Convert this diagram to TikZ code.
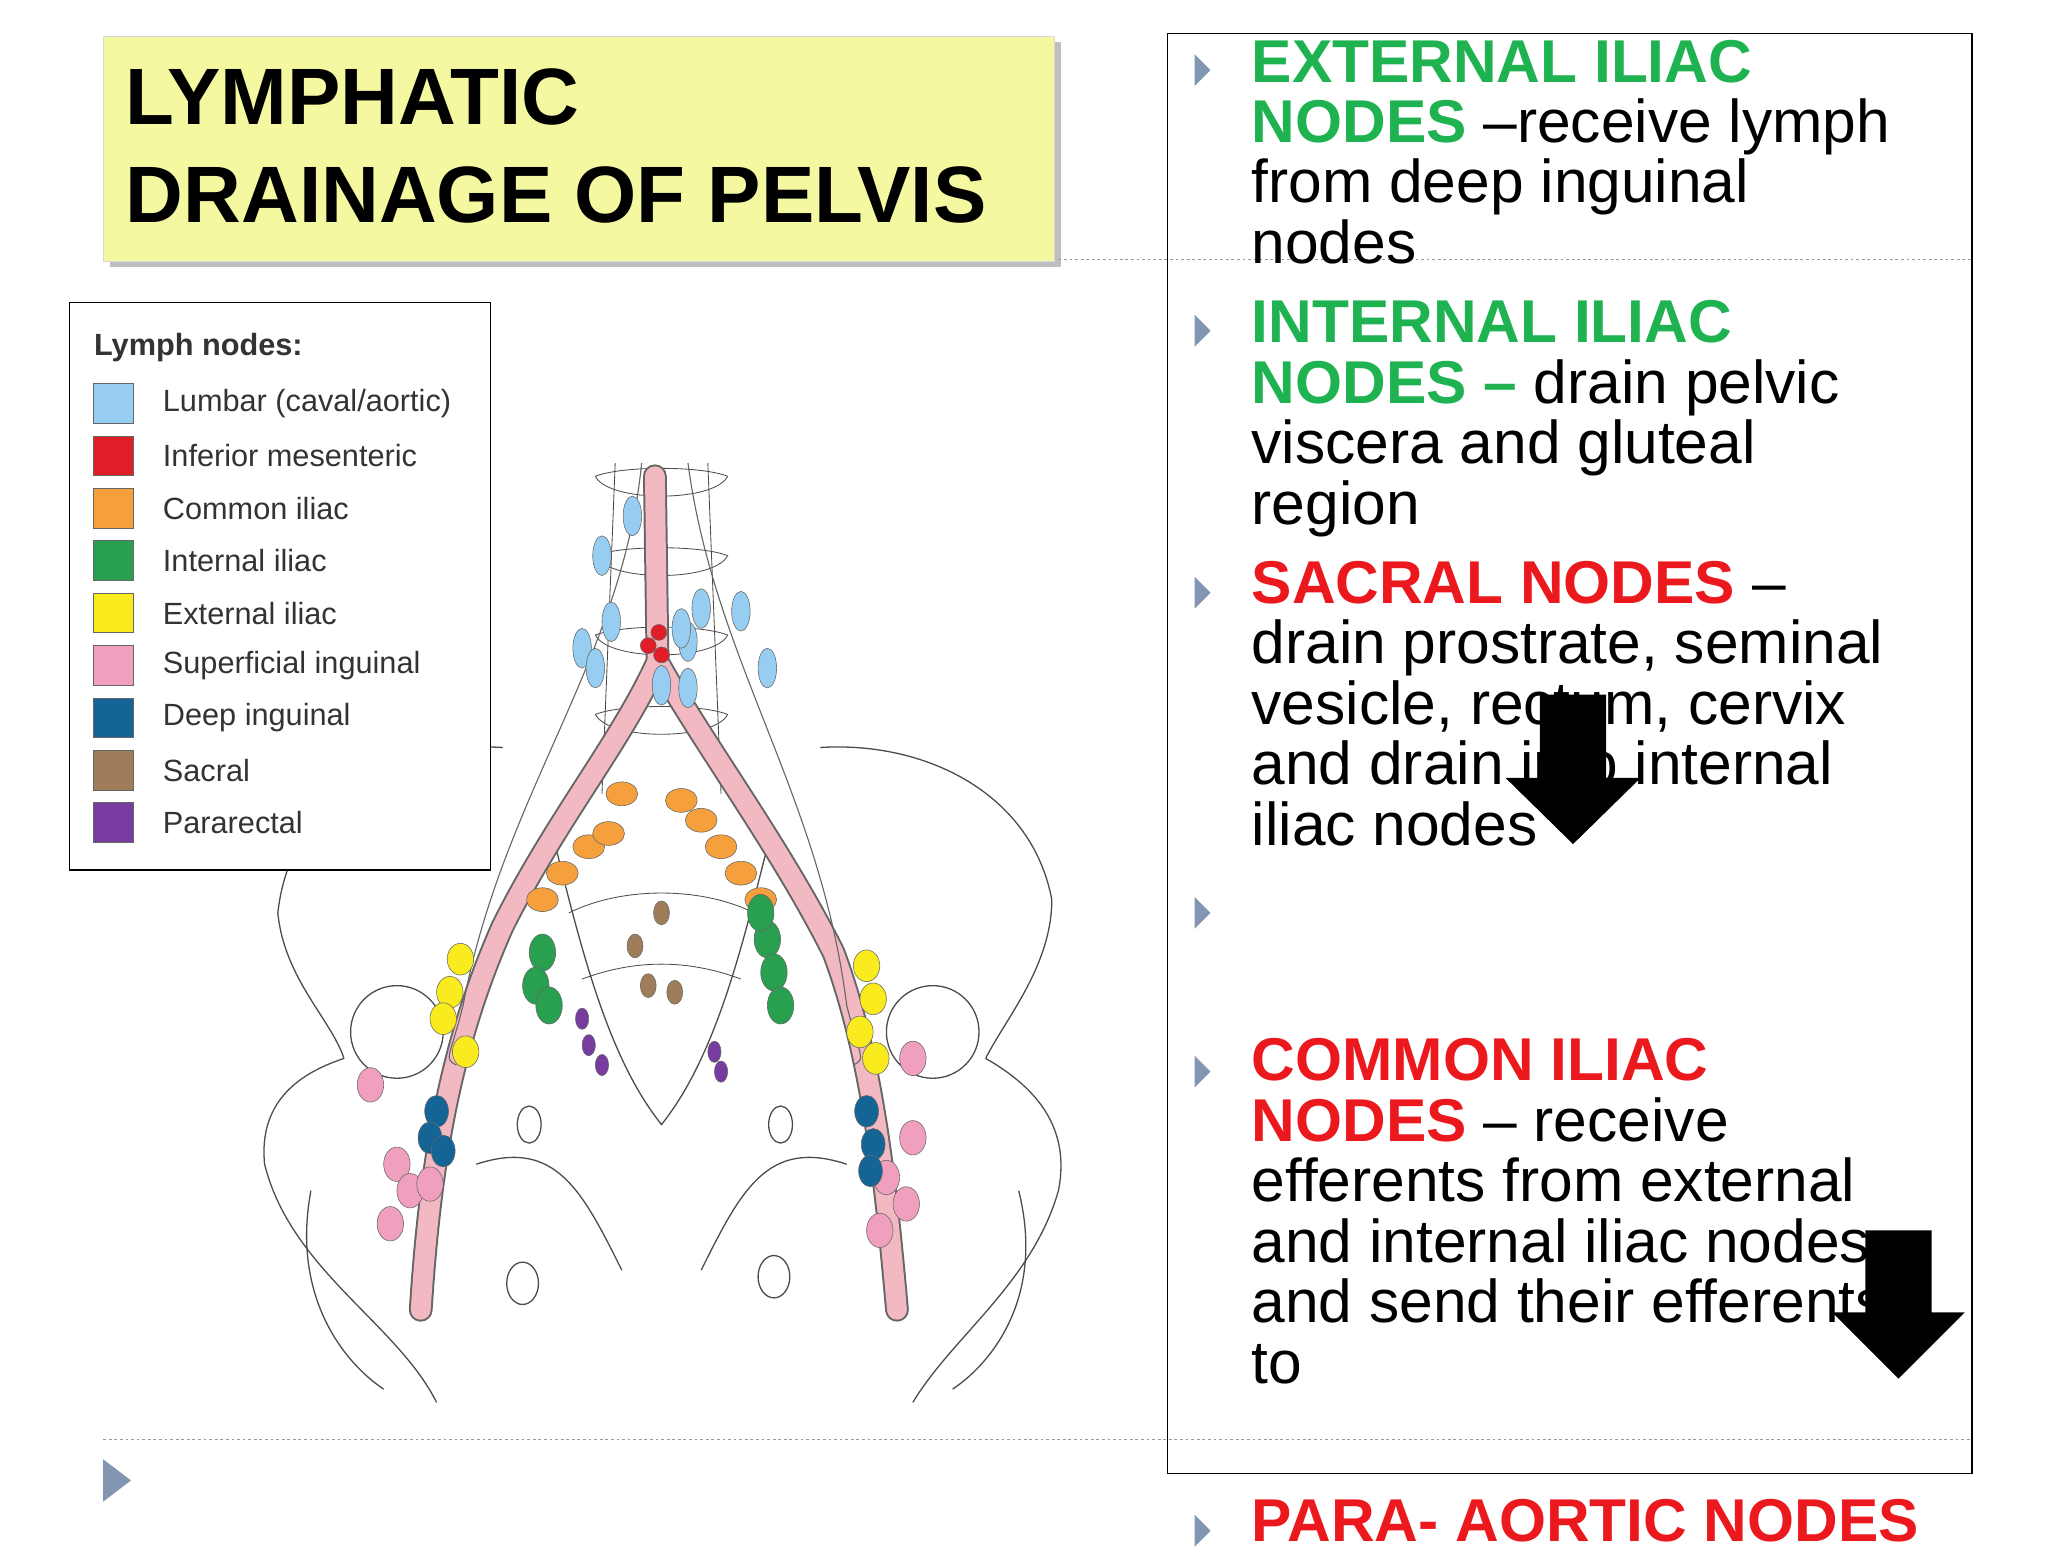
\documentclass[tikz,border=0pt]{standalone}
\usepackage{fontspec}
\setmainfont{Liberation Sans}
\definecolor{grn}{RGB}{30,178,80}
\definecolor{rd}{RGB}{235,25,30}
\definecolor{bul}{RGB}{130,150,178}
\definecolor{lb}{RGB}{150,205,240}
\definecolor{lr}{RGB}{225,30,40}
\definecolor{lo}{RGB}{245,160,60}
\definecolor{lg}{RGB}{40,160,80}
\definecolor{ly}{RGB}{250,235,30}
\definecolor{lp}{RGB}{240,160,190}
\definecolor{ld}{RGB}{20,100,150}
\definecolor{lbr}{RGB}{160,125,90}
\definecolor{lpu}{RGB}{120,60,160}
\definecolor{vess}{RGB}{242,185,195}
\begin{document}
\begin{tikzpicture}[x=0.05cm,y=-0.05cm,
  body/.style={anchor=north west,inner sep=0pt,align=left,font=\fontsize{65}{65}\selectfont},
  bult/.style={fill=bul},
  leg/.style={anchor=west,inner sep=0pt,font=\fontsize{33}{38}\selectfont,text=black!80},
  bone/.style={draw=black!70,line width=1.4pt},
  blob/.style={draw=black!60,line width=0.6pt}]
\useasboundingbox (0,0) rectangle (1548,1172);
% title
\fill[black!25] (83,32) rectangle (802,202);
\node[draw=black!15,fill={rgb,255:red,244;green,248;blue,160},minimum width=719*0.05cm,minimum height=170*0.05cm,anchor=north west,inner sep=0pt] (title) at (78,27) {};
\node[anchor=north west,inner sep=0pt,align=left,font=\fontsize{86}{105}\selectfont\bfseries] (ttxt) at (95,52) {LYMPHATIC\\DRAINAGE OF PELVIS};
% dashed lines
\draw[dashed,black!40,line width=1pt] (800,196) -- (1490,196);
\draw[dashed,black!40,line width=1pt] (78,1088) -- (1490,1088);
% right box
\node[draw,line width=1.4pt,minimum width=608*0.05cm,minimum height=1088*0.05cm,anchor=north west,inner sep=0pt] (rbox) at (882,25) {};
% bullets
\foreach \y in {53,250,448,690,810,1157}{\fill[bult] (903,\y-12) -- (915,\y) -- (903,\y+12) -- cycle;}
\fill[bult] (78,1103) -- (99,1119) -- (78,1135) -- cycle;
% texts
\node[body] (t1) at (946,30) {\textcolor{grn}{\bfseries EXTERNAL ILIAC}\\\textcolor{grn}{\bfseries NODES} –receive lymph\\from deep inguinal\\nodes};
\node[body] (t2) at (946,227) {\textcolor{grn}{\bfseries INTERNAL ILIAC}\\\textcolor{grn}{\bfseries NODES –} drain pelvic\\viscera and gluteal\\region};
\node[body] (t3) at (946,424) {\textcolor{rd}{\bfseries SACRAL NODES} –\\drain prostrate, seminal\\vesicle, rectum, cervix\\and drain into internal\\iliac nodes};
\node[body] (t4) at (946,785) {\textcolor{rd}{\bfseries COMMON ILIAC}\\\textcolor{rd}{\bfseries NODES} – receive\\efferents from external\\and internal iliac nodes\\and send their efferents\\to};
\node[body] (t5) at (946,1133) {\textcolor{rd}{\bfseries PARA- AORTIC NODES}};
% arrows
\fill (1164,525) -- (1214,525) -- (1214,588) -- (1240,588) -- (1189,638) -- (1138,588) -- (1164,588) -- cycle;
\fill (1410,930) -- (1460,930) -- (1460,992) -- (1485,992) -- (1435,1042) -- (1385,992) -- (1410,992) -- cycle;
% ---------- anatomical drawing ----------
\foreach \y in {360,420,480,540}{
 \draw[bone,line width=0.9pt] (450,\y) .. controls (470,\y-8) and (530,\y-8) .. (550,\y) .. controls (540,\y+20) and (460,\y+20) .. (450,\y);}
\draw[bone,line width=0.9pt] (465,350) -- (455,600) (535,350) -- (545,600);
\draw[bone] (380,565) .. controls (300,560) and (220,600) .. (210,690) .. controls (215,740) and (250,770) .. (260,800);
\draw[bone] (620,565) .. controls (700,560) and (780,600) .. (795,680) .. controls (795,730) and (760,770) .. (745,800);
\draw[bone] (260,800) .. controls (230,810) and (195,830) .. (200,880) .. controls (220,960) and (300,1000) .. (330,1060);
\draw[bone] (745,800) .. controls (780,820) and (810,850) .. (800,900) .. controls (780,970) and (720,1010) .. (690,1060);
\draw[bone] (420,640) .. controls (440,720) and (460,800) .. (500,850) .. controls (540,800) and (560,720) .. (580,640);
\draw[bone,line width=0.9pt] (430,690) .. controls (470,670) and (530,670) .. (570,690);
\draw[bone,line width=0.9pt] (440,740) .. controls (480,725) and (520,725) .. (560,740);
\draw[bone] (300,780) circle (35);
\draw[bone] (705,780) circle (35);
\draw[bone] (360,880) .. controls (420,860) and (440,900) .. (470,960);
\draw[bone] (640,880) .. controls (580,860) and (560,900) .. (530,960);
\draw[bone] (235,900) .. controls (220,980) and (260,1030) .. (290,1050);
\draw[bone] (770,900) .. controls (790,980) and (750,1030) .. (720,1050);
\draw[bone,fill=white] (400,850) ellipse (9 and 14);
\draw[bone,fill=white] (590,850) ellipse (9 and 14);
\draw[bone,fill=white] (395,970) ellipse (12 and 16);
\draw[bone,fill=white] (585,965) ellipse (12 and 16);
% vessels
\foreach \w/\c in {18/black!60,15/vess}{
 \draw[line width=\w*1.42pt,\c,line cap=round,line join=round] (495,360) -- (497,500) .. controls (470,560) and (420,620) .. (380,700) .. controls (340,790) and (325,880) .. (318,990);
 \draw[line width=\w*1.42pt,\c,line cap=round,line join=round] (497,500) .. controls (530,560) and (590,640) .. (630,720) .. controls (660,800) and (670,900) .. (678,990);}
\draw[black!60,line width=1.2pt] (485,350) .. controls (470,500) and (380,600) .. (350,760) .. controls (340,800) and (335,800) .. (345,805);
\draw[black!60,line width=1.2pt] (520,350) .. controls (540,500) and (620,600) .. (640,760) .. controls (650,800) and (655,800) .. (645,805);
% lymph blobs
\foreach \x/\y in {478/390,455/420,462/470,520/485,440/490,560/462,580/505,450/505,530/460,515/475,500/518,520}{\draw[blob,fill=lb] (\x,\y) ellipse (7 and 15);}
\foreach \x/\y in {498/478,500/495,490/488}{\draw[blob,fill=lr] (\x,\y) circle (6);}
\foreach \x/\y in {425/660,445/640,460/630,410/680,530/620,545/640,560/660,575/680,470/600,515/605}{\draw[blob,fill=lo] (\x,\y) ellipse (12 and 9);}
\foreach \x/\y in {410/720,405/745,415/760,580/710,585/735,590/760,575/690}{\draw[blob,fill=lg] (\x,\y) ellipse (10 and 14);}
\foreach \x/\y in {348/725,340/750,335/770,352/795,655/730,660/755,650/780,662/800}{\draw[blob,fill=ly] (\x,\y) ellipse (10 and 12);}
\foreach \x/\y in {300/880,310/900,295/925,325/895,670/890,685/910,665/930,690/860,280/820,690/800}{\draw[blob,fill=lp] (\x,\y) ellipse (10 and 13);}
\foreach \x/\y in {330/840,325/860,335/870,655/840,660/865,658/885}{\draw[blob,fill=ld] (\x,\y) ellipse (9 and 12);}
\foreach \x/\y in {480/715,500/690,490/745,510/750}{\draw[blob,fill=lbr] (\x,\y) ellipse (6 and 9);}
\foreach \x/\y in {445/790,455/805,540/795,545/810,440/770}{\draw[blob,fill=lpu] (\x,\y) ellipse (5 and 8);}
% legend
\node[draw,line width=1.4pt,fill=white,minimum width=318*0.05cm,minimum height=429*0.05cm,anchor=north west,inner sep=0pt] (legend) at (52,228) {};
\node[leg,font=\fontsize{33}{38}\selectfont\bfseries] (lh) at (71,263) {Lymph nodes:};
\foreach \c/\t [count=\i from 0] in {lb/{Lumbar (caval/aortic)},lr/Inferior mesenteric,lo/Common iliac,lg/Internal iliac,ly/External iliac,lp/Superficial inguinal,ld/Deep inguinal,lbr/Sacral,lpu/Pararectal}{
 \draw[fill=\c,draw=black!60,line width=1pt] (71,{290+39.6*\i}) rectangle (101,{320+39.6*\i});
 \node[leg] (li\i) at (123,{305+39.6*\i}) {\t};}
\end{tikzpicture}
\end{document}
